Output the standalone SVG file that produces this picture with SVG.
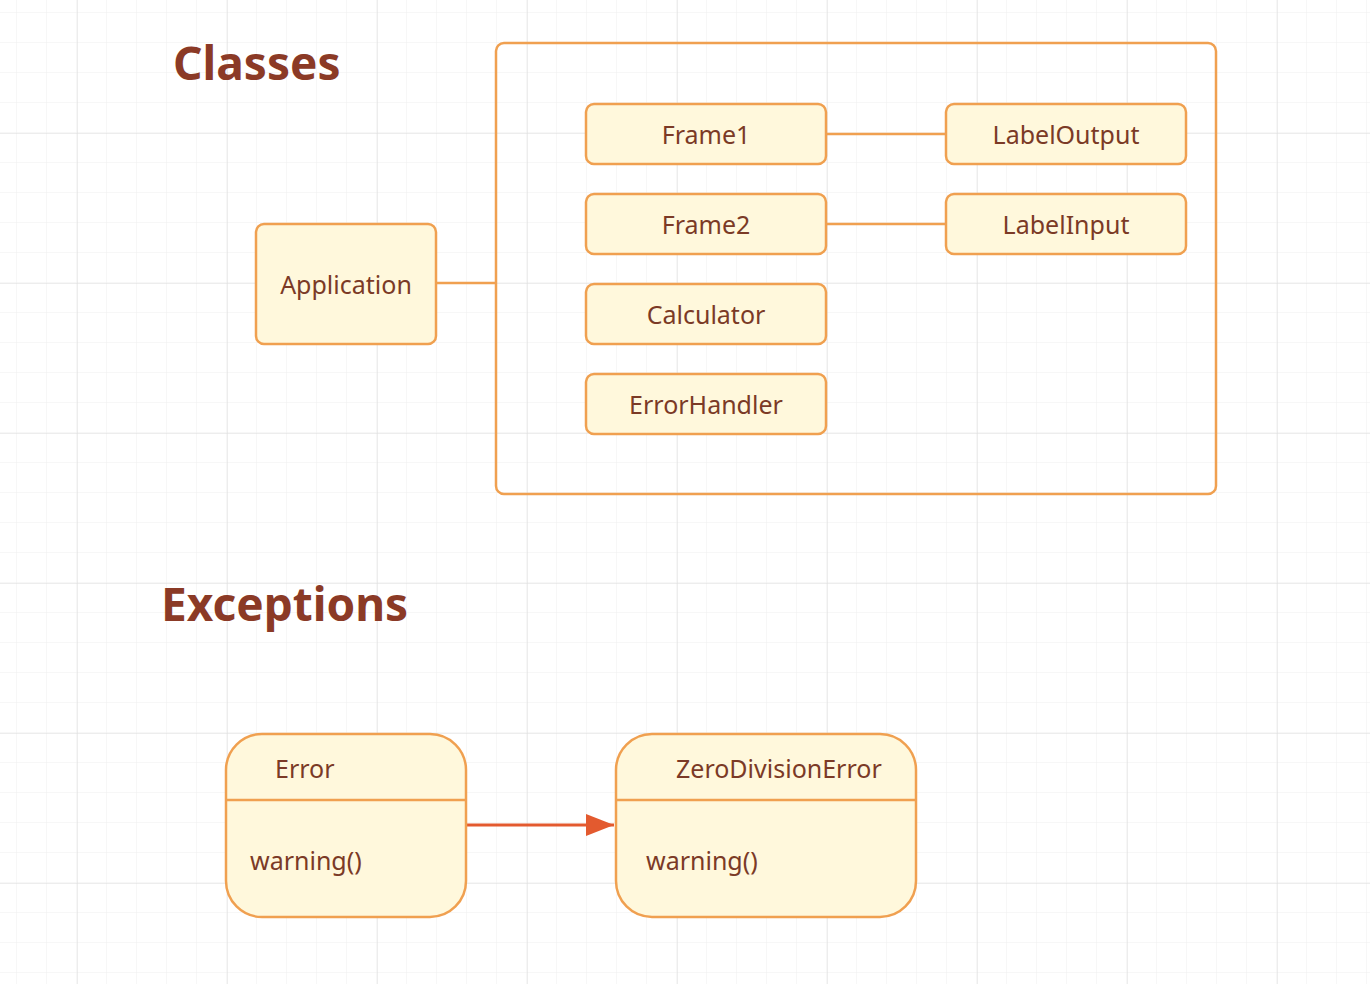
<svg xmlns="http://www.w3.org/2000/svg" width="1370" height="984" viewBox="0 0 1370 984">
<defs>
<pattern id="minor" x="17" y="13" width="30" height="30" patternUnits="userSpaceOnUse"><path d="M30 0V30M0 30H30" fill="none" stroke="#efefef" stroke-width="1"/></pattern>
<pattern id="major" x="77" y="133" width="150" height="150" patternUnits="userSpaceOnUse"><path d="M0 0V150M0 0H150" fill="none" stroke="#dcdcdc" stroke-width="1"/></pattern>
<marker id="arr" viewBox="0 0 10 10" refX="10" refY="5" markerWidth="10" markerHeight="10" markerUnits="userSpaceOnUse" orient="auto"><path d="M0 0L10 5L0 10Z" fill="#e35a2f"/></marker>
<marker id="arrb" viewBox="0 0 28 22" refX="28" refY="11" markerWidth="28" markerHeight="22" markerUnits="userSpaceOnUse" orient="auto"><path d="M0 0L28 11L0 22Z" fill="#e35a2f"/></marker>
</defs>
<style>
.n{fill:#fff8dc;stroke:#f0a050;stroke-width:2.5}
.t{font-family:"Noto Sans","Open Sans",sans-serif;font-size:25px;fill:#7b3a26}
.c{text-anchor:middle}
.h{font-family:"Noto Sans","Open Sans",sans-serif;font-size:46px;font-weight:bold;fill:#8b3a26}
.l{stroke:#f0a050;stroke-width:2.5;fill:none}
</style>
<rect width="1370" height="984" fill="#fff"/>
<rect width="1370" height="984" fill="url(#minor)"/>
<rect width="1370" height="984" fill="url(#major)"/>
<text class="h" x="173" y="80">Classes</text>
<text class="h" x="161" y="621">Exceptions</text>
<g id="connectors">
<path class="l" d="M436 283H496"/>
<path class="l" d="M826 134H946"/>
<path class="l" d="M826 224H946"/>
<path d="M467 825H614" stroke="#e35a2f" stroke-width="3" fill="none" marker-end="url(#arrb)"/>
</g>
<g id="container"><rect x="496" y="43" width="720" height="451" rx="8" class="l"/></g>
<g id="Application"><rect class="n" x="256" y="224" width="180" height="120" rx="8"/><text class="t c" x="346" y="294">Application</text></g>
<g id="Frame1"><rect class="n" x="586" y="104" width="240" height="60" rx="8"/><text class="t c" x="706" y="144">Frame1</text></g>
<g id="Frame2"><rect class="n" x="586" y="194" width="240" height="60" rx="8"/><text class="t c" x="706" y="234">Frame2</text></g>
<g id="Calculator"><rect class="n" x="586" y="284" width="240" height="60" rx="8"/><text class="t c" x="706" y="324">Calculator</text></g>
<g id="ErrorHandler"><rect class="n" x="586" y="374" width="240" height="60" rx="8"/><text class="t c" x="706" y="414">ErrorHandler</text></g>
<g id="LabelOutput"><rect class="n" x="946" y="104" width="240" height="60" rx="8"/><text class="t c" x="1066" y="144">LabelOutput</text></g>
<g id="LabelInput"><rect class="n" x="946" y="194" width="240" height="60" rx="8"/><text class="t c" x="1066" y="234">LabelInput</text></g>
<g id="Error"><rect class="n" x="226" y="734" width="240" height="183" rx="36"/><path class="l" d="M226 800H466"/><text class="t" x="275" y="778">Error</text><text class="t" x="250" y="870">warning()</text></g>
<g id="ZeroDivisionError"><rect class="n" x="616" y="734" width="300" height="183" rx="36"/><path class="l" d="M616 800H916"/><text class="t" x="676" y="778">ZeroDivisionError</text><text class="t" x="646" y="870">warning()</text></g>
</svg>
